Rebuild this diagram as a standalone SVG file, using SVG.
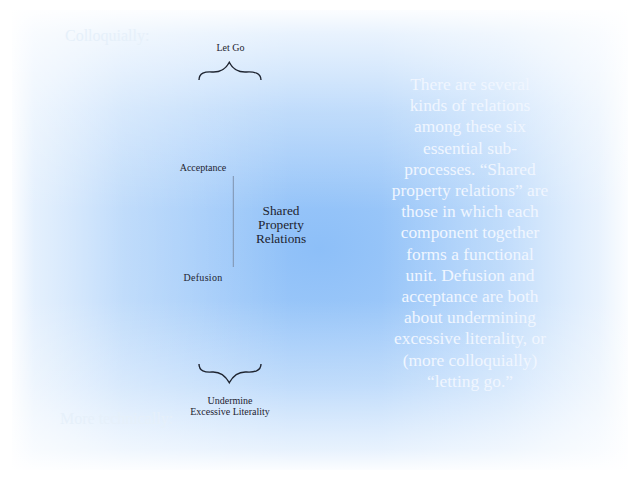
<svg xmlns="http://www.w3.org/2000/svg" width="638" height="478" viewBox="0 0 638 478">
<defs>
<radialGradient id="core" cx="0.5" cy="0.52" r="0.55">
<stop offset="0" stop-color="#8dbff8"/>
<stop offset="1" stop-color="#bcdafb"/>
</radialGradient>
<linearGradient id="fl" gradientUnits="userSpaceOnUse" x1="12" y1="0" x2="290" y2="0">
<stop offset="0" stop-color="#fff" stop-opacity="0.95"/>
<stop offset="0.08" stop-color="#fff" stop-opacity="0.65"/>
<stop offset="0.4" stop-color="#fff" stop-opacity="0.28"/>
<stop offset="1" stop-color="#fff" stop-opacity="0"/>
</linearGradient>
<linearGradient id="fr" gradientUnits="userSpaceOnUse" x1="628" y1="0" x2="380" y2="0">
<stop offset="0" stop-color="#fff" stop-opacity="0.95"/>
<stop offset="0.12" stop-color="#fff" stop-opacity="0.7"/>
<stop offset="0.5" stop-color="#fff" stop-opacity="0.3"/>
<stop offset="1" stop-color="#fff" stop-opacity="0"/>
</linearGradient>
<linearGradient id="ft" gradientUnits="userSpaceOnUse" x1="0" y1="10" x2="0" y2="210">
<stop offset="0" stop-color="#fff" stop-opacity="0.95"/>
<stop offset="0.12" stop-color="#fff" stop-opacity="0.7"/>
<stop offset="0.5" stop-color="#fff" stop-opacity="0.3"/>
<stop offset="1" stop-color="#fff" stop-opacity="0"/>
</linearGradient>
<linearGradient id="fb" gradientUnits="userSpaceOnUse" x1="0" y1="470" x2="0" y2="300">
<stop offset="0" stop-color="#fff" stop-opacity="0.95"/>
<stop offset="0.12" stop-color="#fff" stop-opacity="0.7"/>
<stop offset="0.5" stop-color="#fff" stop-opacity="0.3"/>
<stop offset="1" stop-color="#fff" stop-opacity="0"/>
</linearGradient>
<style>
.lbl{font-family:"Liberation Serif","DejaVu Serif",serif;fill:#1e2430;text-anchor:middle}
.s10{font-size:10px}
.s13{font-size:13.3px}
.faint{font-family:"Liberation Serif","DejaVu Serif",serif;font-size:16px;fill:#e6f0fa}
.para{font-family:"Liberation Serif","DejaVu Serif",serif;font-size:17.4px;fill:#f0f6ff;text-anchor:middle}
.brace{fill:none;stroke:#1e2430;stroke-width:1.4}
</style>
</defs>
<rect width="638" height="478" fill="#ffffff"/>
<rect x="0" y="0" width="638" height="478" fill="url(#core)"/>
<rect x="0" y="0" width="638" height="478" fill="url(#fl)"/>
<rect x="0" y="0" width="638" height="478" fill="url(#fr)"/>
<rect x="0" y="0" width="638" height="478" fill="url(#ft)"/>
<rect x="0" y="0" width="638" height="478" fill="url(#fb)"/>
<rect x="0" y="0" width="12" height="478" fill="#fff"/>
<rect x="628" y="0" width="10" height="478" fill="#fff"/>
<rect x="0" y="0" width="638" height="10" fill="#fff"/>
<rect x="0" y="470" width="638" height="8" fill="#fff"/>

<text class="faint" x="65" y="41">Colloquially:</text>
<text class="faint" x="60" y="424">More technically:</text>

<g id="letgo">
<text class="lbl s10" x="230.5" y="50.5">Let Go</text>
</g>
<g id="acceptance">
<text class="lbl s10" x="203" y="170.5">Acceptance</text>
</g>
<g id="defusion">
<text class="lbl s10" x="203" y="281" letter-spacing="0.3">Defusion</text>
</g>
<g id="shared">
<text class="lbl s13" x="281" y="214.5">Shared</text>
<text class="lbl s13" x="281" y="228.5">Property</text>
<text class="lbl s13" x="281" y="242.5">Relations</text>
</g>
<g id="undermine">
<text class="lbl s10" x="230" y="403.5">Undermine</text>
<text class="lbl s10" x="230" y="414.5">Excessive Literality</text>
</g>

<g id="connectors">
<path class="brace" d="M199,80 C199,73 205,71.5 212,72 C220,72.5 225,70 229.3,62.3 C233.5,70 238.5,72.5 246.5,72 C254,71.5 261,73 261,80"/>
<path class="brace" d="M199,364 C199,371 205,372.5 212,372 C220,371.5 225,375 229.3,382.7 C233.5,375 238.5,371.5 246.5,372 C254,372.5 261,371 261,364"/>
<line x1="233.3" y1="176" x2="233.3" y2="267" stroke="#7f92ad" stroke-width="1"/>
</g>

<g id="paragraph">
<text class="para" x="470" y="90">There are several</text>
<text class="para" x="470" y="111.2">kinds of relations</text>
<text class="para" x="470" y="132.4">among these six</text>
<text class="para" x="470" y="153.6">essential sub-</text>
<text class="para" x="470" y="174.8">processes. “Shared</text>
<text class="para" x="470" y="196">property relations” are</text>
<text class="para" x="470" y="217.2">those in which each</text>
<text class="para" x="470" y="238.4">component together</text>
<text class="para" x="470" y="259.6">forms a functional</text>
<text class="para" x="470" y="280.8">unit. Defusion and</text>
<text class="para" x="470" y="302">acceptance are both</text>
<text class="para" x="470" y="323.2">about undermining</text>
<text class="para" x="470" y="344.4">excessive literality, or</text>
<text class="para" x="470" y="365.6">(more colloquially)</text>
<text class="para" x="470" y="386.8">“letting go.”</text>
</g>
</svg>
